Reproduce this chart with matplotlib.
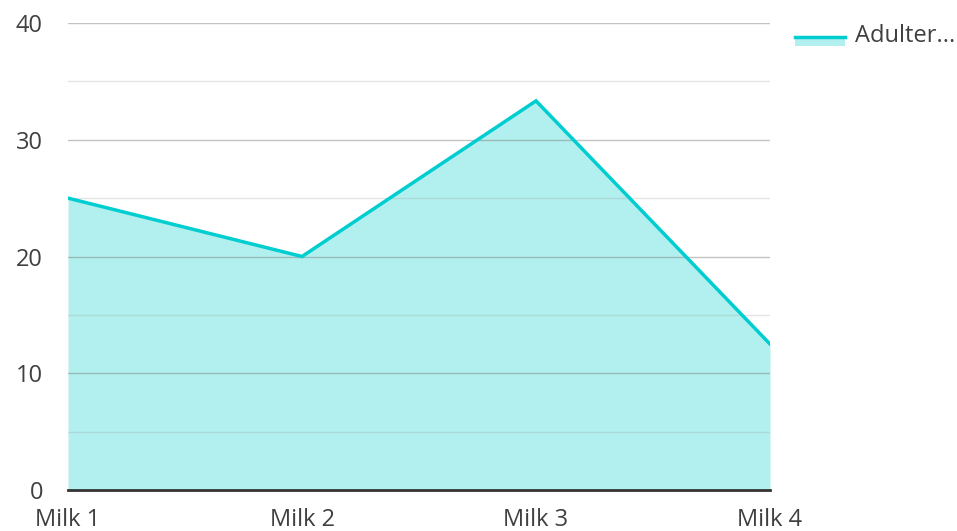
import matplotlib.pyplot as plt
from matplotlib.lines import Line2D
from matplotlib.patches import Rectangle
from matplotlib.ticker import MultipleLocator

# data
categories = ['Milk 1', 'Milk 2', 'Milk 3', 'Milk 4']
values = [25, 20, 33.33, 12.5]
series_name = 'Adulter...'
yticks = [0, 10, 20, 30, 40]

line_col = '#00cdd0'
fill_col = '#b2f0ef'

plt.rcParams['font.family'] = ['Open Sans', 'DejaVu Sans']

W, H = 957, 531
fig = plt.figure(figsize=(W / 100, H / 100), dpi=100)
ax = fig.add_axes([68 / W, (H - 490) / H, (770 - 68) / W, (490 - 23) / H])

x = list(range(len(categories)))
ax.fill_between(x, values, 0, color=fill_col, linewidth=0, zorder=1)
ax.plot(x, values, color=line_col, linewidth=2.5, zorder=3, solid_joinstyle='miter')

ax.set_xlim(0, len(categories) - 1)
ax.set_ylim(0, 40)
ax.set_yticks(yticks)
ax.yaxis.set_minor_locator(MultipleLocator(5))
ax.set_xticks(x)
ax.set_xticklabels(categories)

# grid drawn over the fill
for v in range(5, 41, 5):
    if v % 10 == 0:
        ax.axhline(v, color='#7a7a7a', alpha=0.45, linewidth=1, zorder=2)
    else:
        ax.axhline(v, color='#9a9a9a', alpha=0.25, linewidth=1, zorder=2)
ax.axhline(0, color='#333333', linewidth=2, zorder=4, clip_on=False)

for s in ax.spines.values():
    s.set_visible(False)
ax.tick_params(axis='both', which='both', length=0, labelsize=17, colors='#404040')
ax.tick_params(axis='y', pad=18)
ax.tick_params(axis='x', pad=13)

# legend
lx0, lx1 = 795 / W, 845 / W
fig.add_artist(Rectangle((lx0, (H - 46) / H), lx1 - lx0, 9 / H,
                         transform=fig.transFigure, facecolor=fill_col, edgecolor='none'))
fig.add_artist(Line2D([lx0, lx1], [(H - 37) / H] * 2, transform=fig.transFigure,
                      color=line_col, linewidth=2.5))
fig.text(855 / W, (H - 36) / H, series_name, fontsize=17, color='#404040', va='center', ha='left')

fig.savefig('out.png', dpi=100)
